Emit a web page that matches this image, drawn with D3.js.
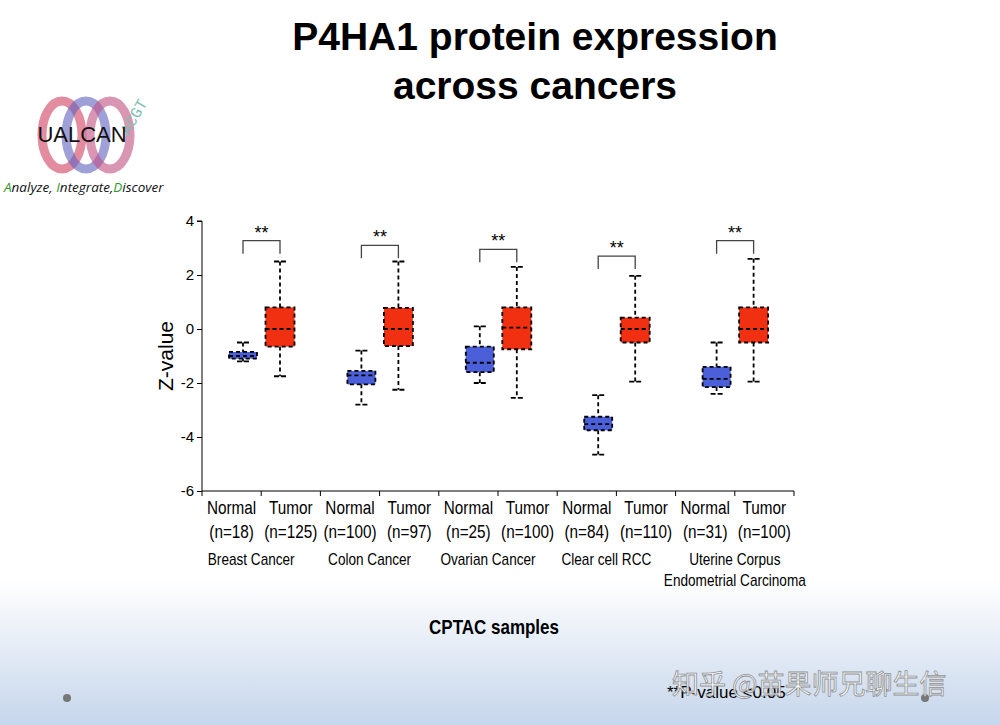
<!DOCTYPE html>
<html><head><meta charset="utf-8">
<script src="https://cdn.jsdelivr.net/npm/d3@7"></script>
<style>body{margin:0}svg{display:block}</style></head>
<body><script>
const cancers=["Breast Cancer","Colon Cancer","Ovarian Cancer","Clear cell RCC","Uterine Corpus\nEndometrial Carcinoma"];
const normalN=[18,100,25,84,31], tumorN=[125,97,100,110,100];
// [max, q3, median, q1, min]
const normalStats=[[-0.5,-0.85,-1.0,-1.1,-1.2],[-0.8,-1.55,-1.72,-2.05,-2.8],[0.1,-0.65,-1.25,-1.6,-2.0],[-2.45,-3.25,-3.52,-3.75,-4.65],[-0.5,-1.4,-1.85,-2.15,-2.4]];
const tumorStats=[[2.5,0.8,0,-0.65,-1.75],[2.5,0.78,0,-0.63,-2.25],[2.3,0.8,0.05,-0.75,-2.55],[1.97,0.42,0,-0.5,-1.95],[2.6,0.8,0,-0.5,-1.95]];
const bracketY=[3.27,3.1,2.95,2.7,3.27];
const yTicks=[4,2,0,-2,-4,-6];

const svg=d3.select("body").append("svg").attr("width",1000).attr("height",725);
const defs=svg.append("defs");
const g=defs.append("linearGradient").attr("id","bg").attr("x1",0).attr("x2",0).attr("y1",0).attr("y2",1);
g.append("stop").attr("offset","0.8").attr("stop-color","#ffffff");
g.append("stop").attr("offset","1").attr("stop-color","#c6d6ec");
svg.append("rect").attr("width",1000).attr("height",725).attr("fill","url(#bg)");
const tf="Liberation Sans, Arial, sans-serif";
svg.append("text").attr("x",535).attr("y",50).attr("text-anchor","middle").attr("font-family",tf).attr("font-weight","bold").attr("font-size",39).text("P4HA1 protein expression");
svg.append("text").attr("x",535).attr("y",99).attr("text-anchor","middle").attr("font-family",tf).attr("font-weight","bold").attr("font-size",39).text("across cancers");

const lg=svg.append("g");
const lcol=["#d04060","#6060c0","#c05080"];
[62,86,110].forEach((cx,i)=>lg.append("ellipse").attr("cx",cx).attr("cy",135).attr("rx",20).attr("ry",34).attr("fill","none").attr("stroke",lcol[i]).attr("stroke-width",9).attr("opacity",0.6));
lg.append("text").attr("x",128).attr("y",125).attr("font-family","Liberation Mono, monospace").attr("font-size",16).attr("fill","#80c0b0").attr("transform","rotate(-60,138,130)").text("ACGT");
lg.append("text").attr("x",82).attr("y",142).attr("text-anchor","middle").attr("font-family",tf).attr("font-size",22).attr("fill","#111").text("UALCAN");
const tl=lg.append("text").attr("x",4).attr("y",192).attr("font-family","Open Sans, sans-serif").attr("font-size",13.5).attr("font-style","italic").attr("fill","#111");
[["A","#2a9a2a"],["nalyze, ","#111"],["I","#2a9a2a"],["ntegrate,","#111"],["D","#2a9a2a"],["iscover","#111"]].forEach(([t,c])=>tl.append("tspan").attr("fill",c).text(t));

const y=d3.scaleLinear().domain([-6,4]).range([491,221]);
const x0=202, cw=118.4;
const x=d3.scaleLinear().domain([0,10]).range([x0,x0+cw*5]);
const nf="Liberation Sans, sans-serif";
function narrow(sel,cx,k){return sel.attr("transform",`translate(${cx},0) scale(${k},1)`).attr("x",0);}
const ax=svg.append("g").attr("transform",`translate(${x0},0)`).call(d3.axisLeft(y).tickValues(yTicks).tickSize(5).tickFormat(d=>d));
ax.select(".domain").attr("d",`M-5,${y(4)}H0V${y(-6)}`);
ax.selectAll("text").attr("font-family",nf).attr("font-size",15).attr("fill","#000");
svg.append("text").attr("transform","translate(173,356) rotate(-90)").attr("text-anchor","middle").attr("font-family",tf).attr("font-size",21).text("Z-value");
svg.append("line").attr("x1",x0).attr("x2",x(10)).attr("y1",491).attr("y2",491).attr("stroke","#000");
d3.range(11).forEach(i=>svg.append("line").attr("x1",x(i)).attr("x2",x(i)).attr("y1",491).attr("y2",496).attr("stroke","#000"));
cancers.forEach((c,i)=>{
  [["Normal",normalN[i]],["Tumor",tumorN[i]]].forEach(([lab,n],j)=>{
    const cx=(x(2*i+j)+x(2*i+j+1))/2;
    narrow(svg.append("text"),cx,0.85).attr("y",514).attr("text-anchor","middle").attr("font-family",nf).attr("font-size",18).text(lab);
    narrow(svg.append("text"),cx,0.85).attr("y",538).attr("text-anchor","middle").attr("font-family",nf).attr("font-size",18).text(`(n=${n})`);
  });
  c.split("\n").forEach((l,k)=>narrow(svg.append("text"),x(2*i+1)-(k==0&&i<4?10:0),0.85).attr("y",565+k*21).attr("text-anchor","middle").attr("font-family",nf).attr("font-size",16).text(l));
});
narrow(svg.append("text"),494,0.85).attr("y",634).attr("text-anchor","middle").attr("font-family",nf).attr("font-weight","bold").attr("font-size",20).text("CPTAC samples");

function box(s,cx,w,fill){
  const gg=svg.append("g").attr("stroke","#000").attr("stroke-dasharray","4,3").attr("stroke-width",1.8);
  gg.append("line").attr("x1",cx).attr("x2",cx).attr("y1",y(s[0])).attr("y2",y(s[1]));
  gg.append("line").attr("x1",cx).attr("x2",cx).attr("y1",y(s[3])).attr("y2",y(s[4]));
  [s[0],s[4]].forEach(v=>gg.append("line").attr("x1",cx-6).attr("x2",cx+6).attr("y1",y(v)).attr("y2",y(v)).attr("stroke-dasharray","5,2"));
  gg.append("rect").attr("x",cx-w/2).attr("width",w).attr("y",y(s[1])).attr("height",y(s[3])-y(s[1])).attr("fill",fill);
  gg.append("line").attr("x1",cx-w/2).attr("x2",cx+w/2).attr("y1",y(s[2])).attr("y2",y(s[2]));
}
cancers.forEach((c,i)=>{
  const nx=x(2*i)+41, tx=x(2*i)+78;
  box(normalStats[i],nx,28,"#4a5fd8");
  box(tumorStats[i],tx,29,"#f03010");
  const by=y(bracketY[i]);
  svg.append("path").attr("d",`M${nx},${by+13}V${by}H${tx}V${by+13}`).attr("fill","none").attr("stroke","#444").attr("stroke-width",1.3);
  svg.append("text").attr("x",(nx+tx)/2).attr("y",by-2).attr("text-anchor","middle").attr("font-family",tf).attr("font-size",18).text("**");
});

svg.append("circle").attr("cx",67).attr("cy",698).attr("r",4).attr("fill","#777");
svg.append("circle").attr("cx",925).attr("cy",698).attr("r",4).attr("fill","#777");
svg.append("text").attr("x",667).attr("y",698).attr("font-family",tf).attr("font-size",17).text("**P-value <0.05");
svg.append("text").attr("x",672).attr("y",694).attr("font-family","Noto Sans CJK SC").attr("font-size",27).attr("fill","#fff").attr("stroke","#888").attr("stroke-width",0.8).attr("opacity",0.9).text("知乎 @苗果师兄聊生信");
</script></body></html>
